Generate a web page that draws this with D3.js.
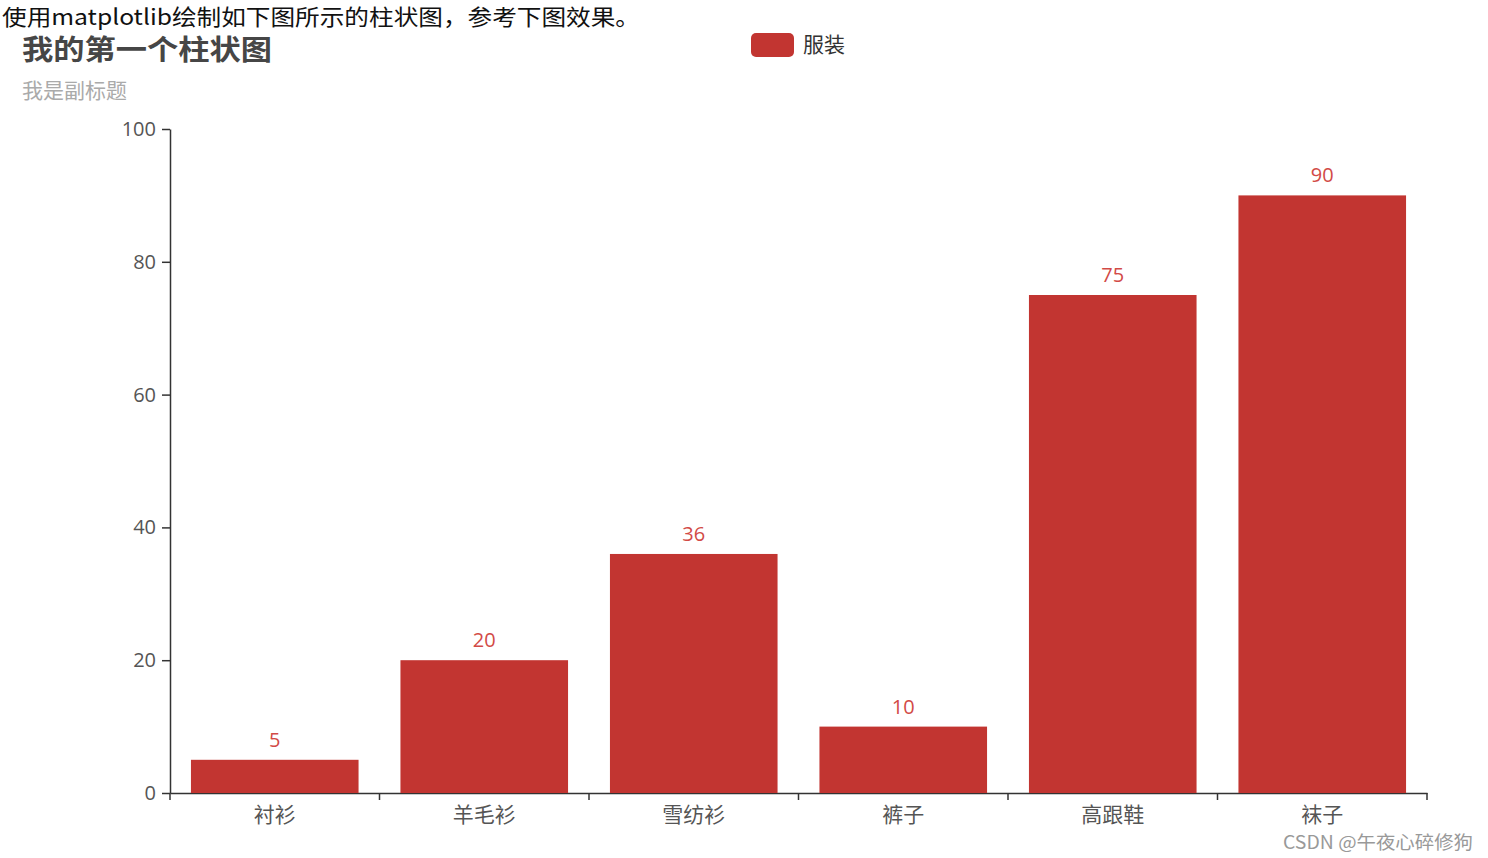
<!DOCTYPE html>
<html>
<head>
<meta charset="utf-8">
<script src="https://cdn.jsdelivr.net/npm/d3@7/dist/d3.min.js"></script>
<style>
  body { margin: 0; background: #fff; }
  text { font-family: "Noto Sans CJK SC", "Open Sans", sans-serif; }
</style>
</head>
<body>
<div id="chart"></div>
<script>
const categories = ["衬衫", "羊毛衫", "雪纺衫", "裤子", "高跟鞋", "袜子"];
const seriesName = "服装";
const seriesValues = [5, 20, 36, 10, 75, 90];
const yTicks = [0, 20, 40, 60, 80, 100];

const width = 1488, height = 858;
const plotLeft = 170, plotRight = 1427, plotTop = 129, plotBottom = 793;
const barColor = "#c23531";

const svg = d3.select("#chart").append("svg")
    .attr("width", width)
    .attr("height", height);

// caption line above the chart
svg.append("text")
    .attr("x", 2).attr("y", 25)
    .attr("textLength", 638)
    .attr("lengthAdjust", "spacingAndGlyphs")
    .style("font-size", "22px")
    .style("fill", "#111")
    .text("使用matplotlib绘制如下图所示的柱状图，参考下图效果。");

svg.append("text")
    .attr("x", 22).attr("y", 60)
    .attr("textLength", 250)
    .attr("lengthAdjust", "spacingAndGlyphs")
    .style("font-size", "28px")
    .style("font-weight", "bold")
    .style("fill", "#464646")
    .text("我的第一个柱状图");

svg.append("text")
    .attr("x", 22).attr("y", 98)
    .style("font-size", "21px")
    .style("fill", "#aaa")
    .text("我是副标题");

// legend
const legend = svg.append("g").attr("transform", "translate(751,33)");
legend.append("rect")
    .attr("width", 43).attr("height", 24)
    .attr("rx", 5)
    .attr("fill", barColor);
legend.append("text")
    .attr("x", 52).attr("y", 19)
    .style("font-size", "21px")
    .style("fill", "#333")
    .text(seriesName);

// paddingInner 0.2 + paddingOuter 0.1 => bars centred in equal slots
const x = d3.scaleBand()
    .domain(categories)
    .range([plotLeft, plotRight])
    .paddingInner(0.2)
    .paddingOuter(0.1);

const y = d3.scaleLinear()
    .domain([0, 100])
    .range([plotBottom, plotTop]);

const xAxis = svg.append("g")
    .attr("transform", `translate(0,${plotBottom})`)
    .call(d3.axisBottom(x).tickSize(0).tickPadding(14));
xAxis.select(".domain").attr("stroke", "#333").attr("stroke-width", 1.5);
xAxis.selectAll("text").style("font-size", "21px").style("fill", "#555");

// boundary ticks between categories
const bounds = d3.range(categories.length + 1).map(i => plotLeft + i * x.step());
xAxis.selectAll(".bound").data(bounds).enter().append("line")
    .attr("class", "bound")
    .attr("x1", d => d).attr("x2", d => d)
    .attr("y1", 0).attr("y2", 7)
    .attr("stroke", "#333").attr("stroke-width", 1.5);

const yAxis = svg.append("g")
    .attr("transform", `translate(${plotLeft},0)`)
    .call(d3.axisLeft(y).tickValues(yTicks).tickSize(8).tickPadding(6).tickSizeOuter(0));
yAxis.select(".domain").attr("stroke", "#333").attr("stroke-width", 1.5);
yAxis.selectAll(".tick line").attr("stroke", "#333").attr("stroke-width", 1.5);
yAxis.selectAll("text").style("font-size", "20px").style("fill", "#555")
    .style("font-family", "'Open Sans', sans-serif");

svg.append("g").selectAll("rect")
    .data(seriesValues)
    .enter().append("rect")
    .attr("x", (d, i) => x(categories[i]))
    .attr("y", d => y(d))
    .attr("width", x.bandwidth())
    .attr("height", d => plotBottom - y(d))
    .attr("fill", barColor);

svg.append("g").selectAll("text")
    .data(seriesValues)
    .enter().append("text")
    .attr("x", (d, i) => x(categories[i]) + x.bandwidth() / 2)
    .attr("y", d => y(d) - 13)
    .attr("text-anchor", "middle")
    .style("font-size", "20px")
    .style("font-family", "'Open Sans', sans-serif")
    .style("fill", "#d24a46")
    .text(d => d);

svg.append("text")
    .attr("x", 1473).attr("y", 849)
    .attr("text-anchor", "end")
    .attr("textLength", 190)
    .attr("lengthAdjust", "spacingAndGlyphs")
    .style("font-size", "18px")
    .style("fill", "#999")
    .text("CSDN @午夜心碎修狗");
</script>
</body>
</html>
